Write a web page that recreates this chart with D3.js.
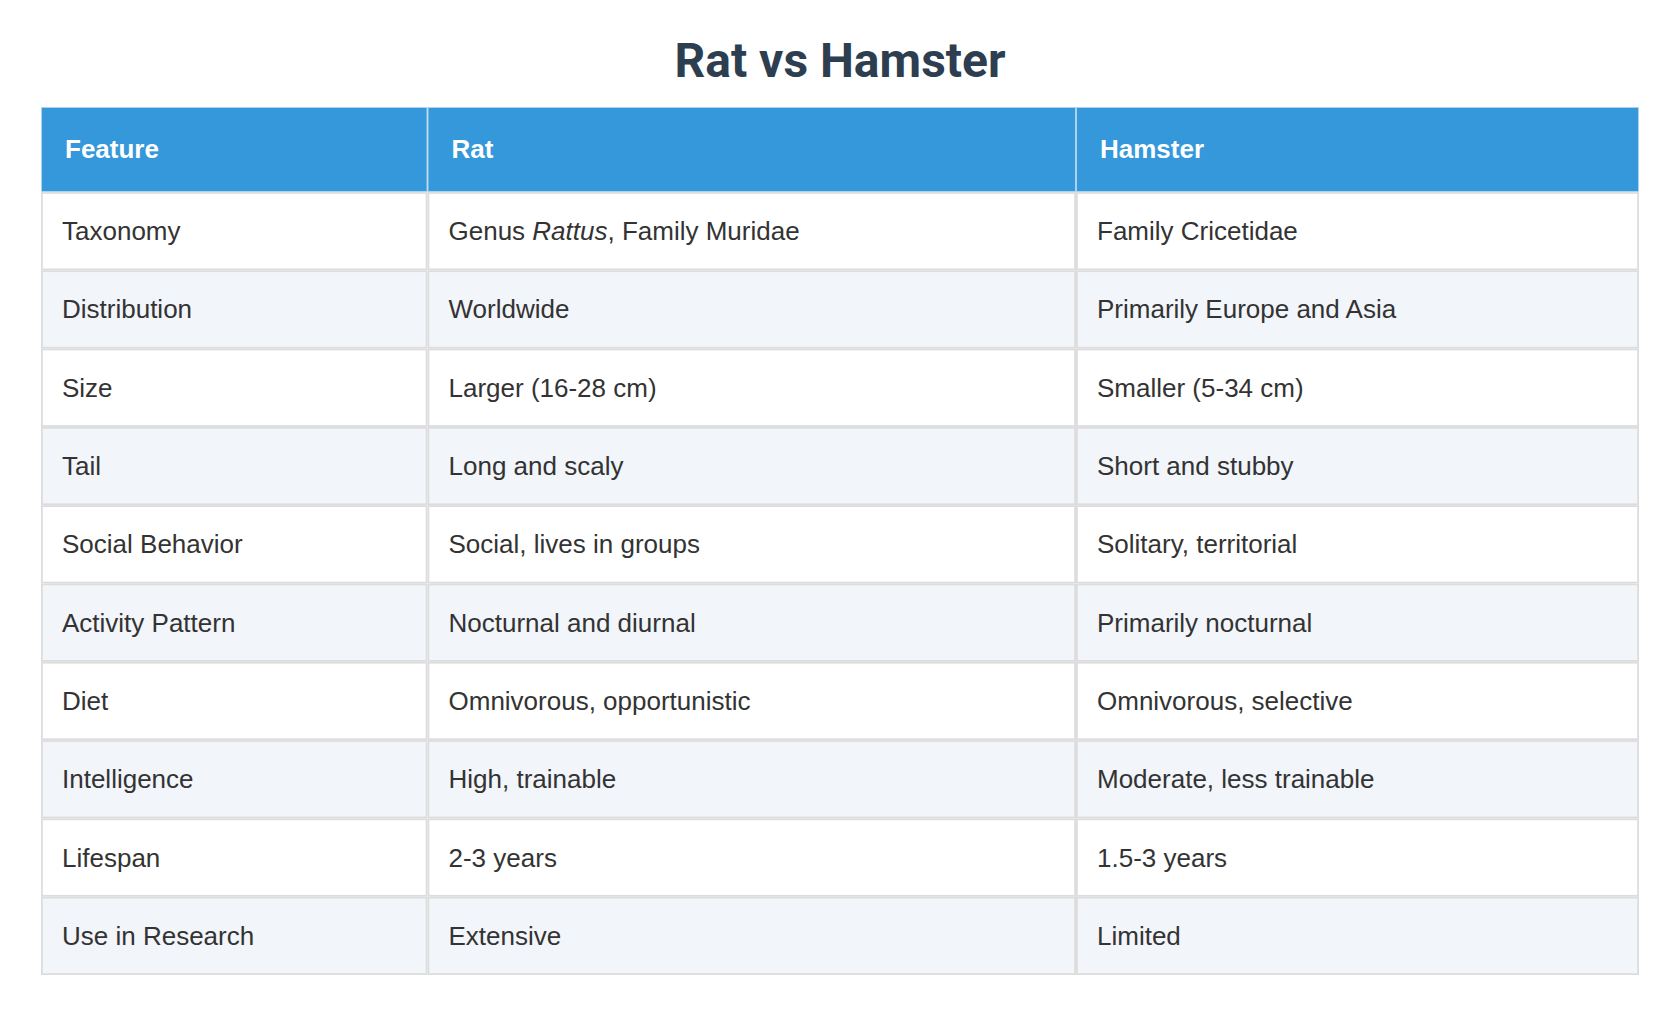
<!DOCTYPE html>
<meta charset="utf-8">
<style>
html, body { margin: 0; background: #fff; }
text { font-family: "Liberation Sans", Arial, sans-serif; }
</style>
<body>
<script src="https://d3js.org/d3.v7.min.js"></script>
<script>
var columns = ["Feature", "Rat", "Hamster"];
var features = ["Taxonomy", "Distribution", "Size", "Tail", "Social Behavior", "Activity Pattern", "Diet", "Intelligence", "Lifespan", "Use in Research"];
var rat = ["Genus |Rattus|, Family Muridae", "Worldwide", "Larger (16-28 cm)", "Long and scaly", "Social, lives in groups", "Nocturnal and diurnal", "Omnivorous, opportunistic", "High, trainable", "2-3 years", "Extensive"];
var hamster = ["Family Cricetidae", "Primarily Europe and Asia", "Smaller (5-34 cm)", "Short and stubby", "Solitary, territorial", "Primarily nocturnal", "Omnivorous, selective", "Moderate, less trainable", "1.5-3 years", "Limited"];

var svg = d3.select("body").append("svg")
    .attr("width", 1680)
    .attr("height", 1018)
    .style("display", "block");

svg.append("text")
    .attr("x", 840)
    .attr("y", 77)
    .attr("text-anchor", "middle")
    .attr("font-size", 48)
    .attr("font-weight", "bold")
    .attr("fill", "#2c3e50")
    .style("font-family", "Roboto")
    .text("Rat vs Hamster");

// column edges
var x = d3.scaleOrdinal().domain(columns).range([41, 427.5, 1076]);
var colEnd = d3.scaleOrdinal().domain(columns).range([427.5, 1076, 1639]);
var y = d3.scaleBand().domain(features).range([192, 975]);
var headH = 85, headTop = 107;
var border = 1.8;

svg.selectAll("rect.head").data(columns).enter().append("rect")
    .attr("class", "head")
    .attr("x", function(d) { return x(d) + 0.5; })
    .attr("y", headTop + 0.5)
    .attr("width", function(d) { return colEnd(d) - x(d) - 1; })
    .attr("height", headH - 1)
    .attr("fill", "#3498db")
    .attr("stroke", "#a9d3ee")
    .attr("stroke-width", 1);

svg.selectAll("text.head").data(columns).enter().append("text")
    .attr("class", "head")
    .attr("x", function(d) { return x(d) + 24; })
    .attr("y", headTop + headH / 2 + 8.5)
    .attr("font-size", 26)
    .attr("font-weight", "bold")
    .attr("fill", "#fff")
    .text(function(d) { return d; });

var rows = svg.selectAll("g.row").data(features).enter().append("g")
    .attr("class", "row")
    .attr("transform", function(d) { return "translate(0," + y(d) + ")"; });

columns.forEach(function(col, c) {
  rows.append("rect")
      .attr("x", x(col) + border / 2)
      .attr("y", border / 2)
      .attr("width", colEnd(col) - x(col) - border)
      .attr("height", y.bandwidth() - border)
      .attr("fill", function(d, i) { return i % 2 ? "#f2f5fa" : "#fff"; })
      .attr("stroke", "#dddddd")
      .attr("stroke-width", border);
  var t = rows.append("text")
      .attr("x", x(col) + 21)
      .attr("y", y.bandwidth() / 2 + 9)
      .attr("font-size", 26)
      .attr("fill", "#333");
  t.each(function(d, i) {
    var s = c == 0 ? d : (c == 1 ? rat[i] : hamster[i]);
    var node = d3.select(this);
    s.split("|").forEach(function(part, k) {
      node.append("tspan").attr("font-style", k % 2 ? "italic" : "normal").text(part);
    });
  });
});
</script>
</body>
</html>
